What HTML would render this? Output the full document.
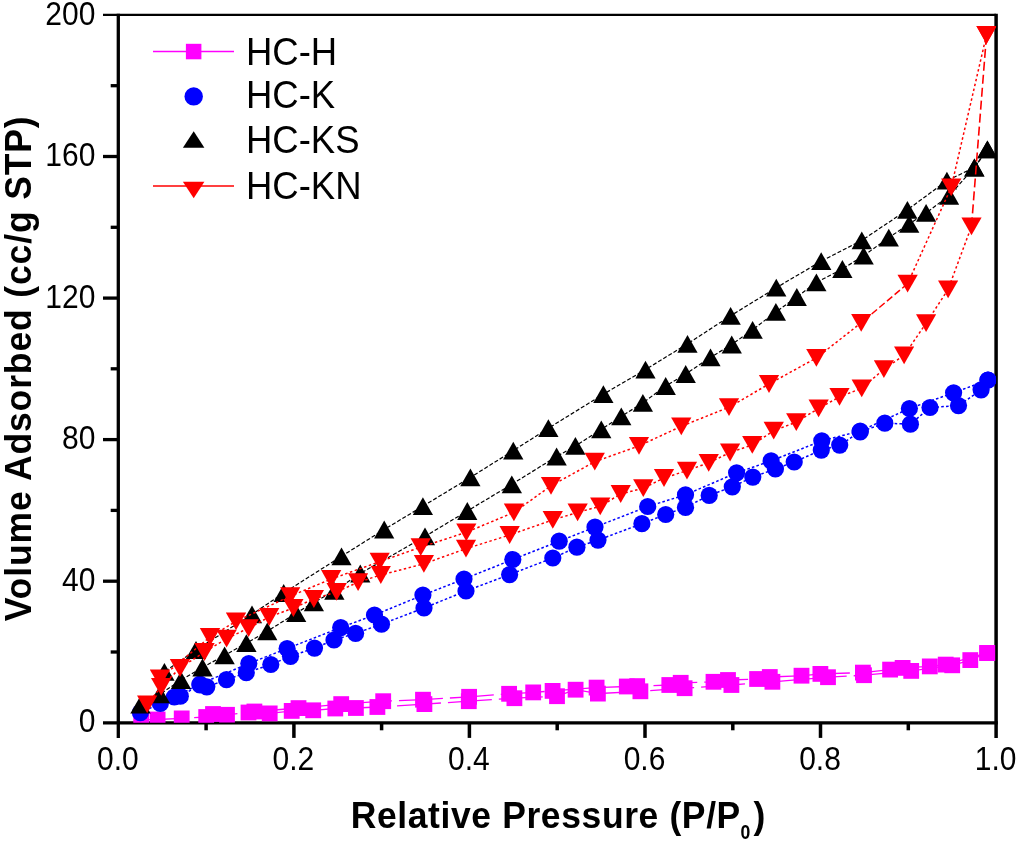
<!DOCTYPE html>
<html lang="en"><head><meta charset="utf-8"><title>N2 adsorption isotherms</title>
<style>html,body{margin:0;padding:0;background:#fff}svg{display:block}text{font-family:"Liberation Sans",Arial,sans-serif;fill:#000}.t{font-size:30px}.b{font-size:35.5px;font-weight:bold}.l{font-size:36.5px}</style>
</head><body>
<svg width="1020" height="845" viewBox="0 0 1020 845">
<rect width="1020" height="845" fill="#fff"/>
<g stroke="#000" fill="none" stroke-width="3.3">
<line x1="118.3" y1="13.85" x2="118.3" y2="737.9"/>
<line x1="996.1" y1="13.85" x2="996.1" y2="737.9" stroke-width="3.5"/>
<line x1="103.0" y1="722.8" x2="997.8000000000001" y2="722.8"/>
<line x1="103.0" y1="14.9" x2="996.1" y2="14.9" stroke-width="2.1"/>
<line x1="110.7" y1="652.0" x2="118.3" y2="652.0"/>
<line x1="103.0" y1="581.2" x2="118.3" y2="581.2"/>
<line x1="110.7" y1="510.4" x2="118.3" y2="510.4"/>
<line x1="103.0" y1="439.6" x2="118.3" y2="439.6"/>
<line x1="110.7" y1="368.8" x2="118.3" y2="368.8"/>
<line x1="103.0" y1="298.1" x2="118.3" y2="298.1"/>
<line x1="110.7" y1="227.3" x2="118.3" y2="227.3"/>
<line x1="103.0" y1="156.5" x2="118.3" y2="156.5"/>
<line x1="110.7" y1="85.7" x2="118.3" y2="85.7"/>
<line x1="206.1" y1="722.8" x2="206.1" y2="730.3" stroke-width="3.5"/>
<line x1="293.9" y1="722.8" x2="293.9" y2="737.9" stroke-width="3.5"/>
<line x1="381.6" y1="722.8" x2="381.6" y2="730.3" stroke-width="3.5"/>
<line x1="469.4" y1="722.8" x2="469.4" y2="737.9" stroke-width="3.5"/>
<line x1="557.2" y1="722.8" x2="557.2" y2="730.3" stroke-width="3.5"/>
<line x1="645.0" y1="722.8" x2="645.0" y2="737.9" stroke-width="3.5"/>
<line x1="732.8" y1="722.8" x2="732.8" y2="730.3" stroke-width="3.5"/>
<line x1="820.5" y1="722.8" x2="820.5" y2="737.9" stroke-width="3.5"/>
<line x1="908.3" y1="722.8" x2="908.3" y2="730.3" stroke-width="3.5"/>
</g>
<defs><clipPath id="cp"><rect x="118.3" y="14.9" width="877.8000000000001" height="707.9"/></clipPath></defs><g clip-path="url(#cp)">
<g id="hch">
<polyline points="141.2,719.7 157.6,719.5 181.7,718.4 206.2,717.0 213.0,714.0 227.0,714.8 248.5,712.5 269.7,713.4 291.7,710.9 313.2,710.3 335.3,708.5 355.9,708.0 377.4,707.0 424.4,704.1 468.8,701.2 514.4,698.2 557.0,696.2 575.6,689.7 597.9,693.6 640.4,691.3 684.6,688.2 731.4,685.0 772.4,681.8 828.0,677.2 864.0,675.2 911.2,670.9 952.2,665.3 970.3,660.1 987.2,653.0" fill="none" stroke="#ff00ff" stroke-width="1.3" stroke-dasharray="44 7" stroke-dashoffset="49"/>
<polyline points="254.4,711.5 298.5,708.1 341.2,704.1 383.2,701.2 423.0,699.7 469.1,696.8 509.1,693.8 533.2,692.4 552.6,690.9 596.6,687.6 626.8,686.5 637.2,686.1 669.3,685.0 680.7,682.8 713.5,681.8 728.0,680.0 757.1,679.0 769.8,677.0 801.5,675.7 820.4,673.9 862.9,672.6 890.1,669.6 902.6,667.9 929.8,666.4 945.7,664.6 987.2,653.0" fill="none" stroke="#ff00ff" stroke-width="1.3" stroke-dasharray="44 7" stroke-dashoffset="8"/>
<rect x="133.3" y="711.8" width="15.8" height="15.8" fill="#ff00ff"/>
<rect x="149.7" y="711.6" width="15.8" height="15.8" fill="#ff00ff"/>
<rect x="173.8" y="710.5" width="15.8" height="15.8" fill="#ff00ff"/>
<rect x="198.3" y="709.1" width="15.8" height="15.8" fill="#ff00ff"/>
<rect x="205.1" y="706.1" width="15.8" height="15.8" fill="#ff00ff"/>
<rect x="219.1" y="706.9" width="15.8" height="15.8" fill="#ff00ff"/>
<rect x="240.6" y="704.6" width="15.8" height="15.8" fill="#ff00ff"/>
<rect x="261.8" y="705.5" width="15.8" height="15.8" fill="#ff00ff"/>
<rect x="283.8" y="703.0" width="15.8" height="15.8" fill="#ff00ff"/>
<rect x="305.3" y="702.4" width="15.8" height="15.8" fill="#ff00ff"/>
<rect x="327.4" y="700.6" width="15.8" height="15.8" fill="#ff00ff"/>
<rect x="348.0" y="700.1" width="15.8" height="15.8" fill="#ff00ff"/>
<rect x="369.5" y="699.1" width="15.8" height="15.8" fill="#ff00ff"/>
<rect x="416.5" y="696.2" width="15.8" height="15.8" fill="#ff00ff"/>
<rect x="460.9" y="693.3" width="15.8" height="15.8" fill="#ff00ff"/>
<rect x="506.5" y="690.3" width="15.8" height="15.8" fill="#ff00ff"/>
<rect x="549.1" y="688.3" width="15.8" height="15.8" fill="#ff00ff"/>
<rect x="567.7" y="681.8" width="15.8" height="15.8" fill="#ff00ff"/>
<rect x="590.0" y="685.7" width="15.8" height="15.8" fill="#ff00ff"/>
<rect x="632.5" y="683.4" width="15.8" height="15.8" fill="#ff00ff"/>
<rect x="676.7" y="680.3" width="15.8" height="15.8" fill="#ff00ff"/>
<rect x="723.5" y="677.1" width="15.8" height="15.8" fill="#ff00ff"/>
<rect x="764.5" y="673.9" width="15.8" height="15.8" fill="#ff00ff"/>
<rect x="820.1" y="669.3" width="15.8" height="15.8" fill="#ff00ff"/>
<rect x="856.1" y="667.3" width="15.8" height="15.8" fill="#ff00ff"/>
<rect x="903.3" y="663.0" width="15.8" height="15.8" fill="#ff00ff"/>
<rect x="944.3" y="657.4" width="15.8" height="15.8" fill="#ff00ff"/>
<rect x="962.4" y="652.2" width="15.8" height="15.8" fill="#ff00ff"/>
<rect x="979.3" y="645.1" width="15.8" height="15.8" fill="#ff00ff"/>
<rect x="979.3" y="645.1" width="15.8" height="15.8" fill="#ff00ff"/>
<rect x="937.8" y="656.7" width="15.8" height="15.8" fill="#ff00ff"/>
<rect x="921.9" y="658.5" width="15.8" height="15.8" fill="#ff00ff"/>
<rect x="894.7" y="660.0" width="15.8" height="15.8" fill="#ff00ff"/>
<rect x="882.2" y="661.7" width="15.8" height="15.8" fill="#ff00ff"/>
<rect x="855.0" y="664.7" width="15.8" height="15.8" fill="#ff00ff"/>
<rect x="812.5" y="666.0" width="15.8" height="15.8" fill="#ff00ff"/>
<rect x="793.6" y="667.8" width="15.8" height="15.8" fill="#ff00ff"/>
<rect x="761.9" y="669.1" width="15.8" height="15.8" fill="#ff00ff"/>
<rect x="749.2" y="671.1" width="15.8" height="15.8" fill="#ff00ff"/>
<rect x="720.1" y="672.1" width="15.8" height="15.8" fill="#ff00ff"/>
<rect x="705.6" y="673.9" width="15.8" height="15.8" fill="#ff00ff"/>
<rect x="672.8" y="674.9" width="15.8" height="15.8" fill="#ff00ff"/>
<rect x="661.4" y="677.1" width="15.8" height="15.8" fill="#ff00ff"/>
<rect x="629.3" y="678.2" width="15.8" height="15.8" fill="#ff00ff"/>
<rect x="618.9" y="678.6" width="15.8" height="15.8" fill="#ff00ff"/>
<rect x="588.7" y="679.7" width="15.8" height="15.8" fill="#ff00ff"/>
<rect x="544.7" y="683.0" width="15.8" height="15.8" fill="#ff00ff"/>
<rect x="525.3" y="684.5" width="15.8" height="15.8" fill="#ff00ff"/>
<rect x="501.2" y="685.9" width="15.8" height="15.8" fill="#ff00ff"/>
<rect x="461.2" y="688.9" width="15.8" height="15.8" fill="#ff00ff"/>
<rect x="415.1" y="691.8" width="15.8" height="15.8" fill="#ff00ff"/>
<rect x="375.3" y="693.3" width="15.8" height="15.8" fill="#ff00ff"/>
<rect x="333.3" y="696.2" width="15.8" height="15.8" fill="#ff00ff"/>
<rect x="290.6" y="700.2" width="15.8" height="15.8" fill="#ff00ff"/>
<rect x="246.5" y="703.6" width="15.8" height="15.8" fill="#ff00ff"/>
</g>
<g id="hck">
<polyline points="140.4,712.6 160.3,703.5 180.3,696.2 200.0,685.0 206.8,686.8 226.5,679.7 246.3,672.7 270.8,664.5 290.5,656.3 314.5,648.1 334.0,640.0 355.6,633.3 381.5,624.2 424.0,608.0 466.0,591.0 509.6,574.6 552.8,558.0 576.9,547.2 598.0,540.1 641.9,523.7 665.7,514.5 685.5,507.3 709.2,495.4 732.3,486.8 752.8,477.1 775.4,468.9 794.2,462.0 821.3,450.1 839.7,445.1 860.2,431.8 884.8,423.2 910.4,424.2 930.0,407.5 958.5,405.6 981.1,389.8 988.0,380.0" fill="none" stroke="#0000ff" stroke-width="1.5" stroke-dasharray="2.6 2.2"/>
<polyline points="988.0,380.0 953.6,392.8 909.4,408.5 860.2,431.0 821.8,440.8 771.1,460.9 736.6,472.8 685.5,494.8 647.7,506.5 595.0,527.1 559.2,541.2 512.8,559.5 464.0,579.0 422.9,595.1 374.5,615.0 340.7,627.6 287.1,648.5 248.8,663.5 200.0,684.0 174.3,697.0" fill="none" stroke="#0000ff" stroke-width="1.5" stroke-dasharray="2.6 2.2"/>
<circle cx="140.4" cy="712.6" r="8.6" fill="#0000ff"/>
<circle cx="160.3" cy="703.5" r="8.6" fill="#0000ff"/>
<circle cx="180.3" cy="696.2" r="8.6" fill="#0000ff"/>
<circle cx="200.0" cy="685.0" r="8.6" fill="#0000ff"/>
<circle cx="206.8" cy="686.8" r="8.6" fill="#0000ff"/>
<circle cx="226.5" cy="679.7" r="8.6" fill="#0000ff"/>
<circle cx="246.3" cy="672.7" r="8.6" fill="#0000ff"/>
<circle cx="270.8" cy="664.5" r="8.6" fill="#0000ff"/>
<circle cx="290.5" cy="656.3" r="8.6" fill="#0000ff"/>
<circle cx="314.5" cy="648.1" r="8.6" fill="#0000ff"/>
<circle cx="334.0" cy="640.0" r="8.6" fill="#0000ff"/>
<circle cx="355.6" cy="633.3" r="8.6" fill="#0000ff"/>
<circle cx="381.5" cy="624.2" r="8.6" fill="#0000ff"/>
<circle cx="424.0" cy="608.0" r="8.6" fill="#0000ff"/>
<circle cx="466.0" cy="591.0" r="8.6" fill="#0000ff"/>
<circle cx="509.6" cy="574.6" r="8.6" fill="#0000ff"/>
<circle cx="552.8" cy="558.0" r="8.6" fill="#0000ff"/>
<circle cx="576.9" cy="547.2" r="8.6" fill="#0000ff"/>
<circle cx="598.0" cy="540.1" r="8.6" fill="#0000ff"/>
<circle cx="641.9" cy="523.7" r="8.6" fill="#0000ff"/>
<circle cx="665.7" cy="514.5" r="8.6" fill="#0000ff"/>
<circle cx="685.5" cy="507.3" r="8.6" fill="#0000ff"/>
<circle cx="709.2" cy="495.4" r="8.6" fill="#0000ff"/>
<circle cx="732.3" cy="486.8" r="8.6" fill="#0000ff"/>
<circle cx="752.8" cy="477.1" r="8.6" fill="#0000ff"/>
<circle cx="775.4" cy="468.9" r="8.6" fill="#0000ff"/>
<circle cx="794.2" cy="462.0" r="8.6" fill="#0000ff"/>
<circle cx="821.3" cy="450.1" r="8.6" fill="#0000ff"/>
<circle cx="839.7" cy="445.1" r="8.6" fill="#0000ff"/>
<circle cx="860.2" cy="431.8" r="8.6" fill="#0000ff"/>
<circle cx="884.8" cy="423.2" r="8.6" fill="#0000ff"/>
<circle cx="910.4" cy="424.2" r="8.6" fill="#0000ff"/>
<circle cx="930.0" cy="407.5" r="8.6" fill="#0000ff"/>
<circle cx="958.5" cy="405.6" r="8.6" fill="#0000ff"/>
<circle cx="981.1" cy="389.8" r="8.6" fill="#0000ff"/>
<circle cx="988.0" cy="380.0" r="8.6" fill="#0000ff"/>
<circle cx="988.0" cy="380.0" r="8.6" fill="#0000ff"/>
<circle cx="953.6" cy="392.8" r="8.6" fill="#0000ff"/>
<circle cx="909.4" cy="408.5" r="8.6" fill="#0000ff"/>
<circle cx="860.2" cy="431.0" r="8.6" fill="#0000ff"/>
<circle cx="821.8" cy="440.8" r="8.6" fill="#0000ff"/>
<circle cx="771.1" cy="460.9" r="8.6" fill="#0000ff"/>
<circle cx="736.6" cy="472.8" r="8.6" fill="#0000ff"/>
<circle cx="685.5" cy="494.8" r="8.6" fill="#0000ff"/>
<circle cx="647.7" cy="506.5" r="8.6" fill="#0000ff"/>
<circle cx="595.0" cy="527.1" r="8.6" fill="#0000ff"/>
<circle cx="559.2" cy="541.2" r="8.6" fill="#0000ff"/>
<circle cx="512.8" cy="559.5" r="8.6" fill="#0000ff"/>
<circle cx="464.0" cy="579.0" r="8.6" fill="#0000ff"/>
<circle cx="422.9" cy="595.1" r="8.6" fill="#0000ff"/>
<circle cx="374.5" cy="615.0" r="8.6" fill="#0000ff"/>
<circle cx="340.7" cy="627.6" r="8.6" fill="#0000ff"/>
<circle cx="287.1" cy="648.5" r="8.6" fill="#0000ff"/>
<circle cx="248.8" cy="663.5" r="8.6" fill="#0000ff"/>
<circle cx="200.0" cy="684.0" r="8.6" fill="#0000ff"/>
<circle cx="174.3" cy="697.0" r="8.6" fill="#0000ff"/>
</g>
<g id="hcks">
<polyline points="140.5,704.7 159.8,694.4 180.9,680.1 202.5,667.5 224.6,655.3 246.4,643.2 267.3,631.3 296.2,613.1 313.9,602.4 334.4,590.8 360.3,573.5 425.0,536.4 467.3,511.0 511.8,484.3 556.6,456.5 575.4,445.9 601.3,429.4 621.3,416.4 642.9,402.8 665.7,386.0 685.7,374.0 710.5,357.4 731.7,344.5 752.6,329.8 775.9,311.9 796.8,297.0 816.4,282.4 842.4,269.0 863.6,255.7 888.8,237.7 909.2,223.9 926.1,212.9 949.1,195.8 974.4,167.5 987.4,149.4" fill="none" stroke="#000" stroke-width="1.2" stroke-dasharray="4 2"/>
<polyline points="987.4,149.4 974.4,167.5 946.9,180.7 907.4,209.8 861.8,240.4 821.2,261.2 776.3,287.7 730.6,315.8 687.5,343.8 645.5,369.6 603.4,394.2 548.4,428.2 513.3,450.6 470.4,477.4 422.9,506.2 384.2,529.5 341.5,556.3 283.7,593.0 252.0,614.3 196.0,650.0 164.4,671.8" fill="none" stroke="#000" stroke-width="1.2" stroke-dasharray="4 2"/>
<polygon points="130.3,713.6 150.7,713.6 140.5,695.8" fill="#000"/>
<polygon points="149.7,703.3 170.0,703.3 159.8,685.5" fill="#000"/>
<polygon points="170.8,689.0 191.1,689.0 180.9,671.2" fill="#000"/>
<polygon points="192.3,676.4 212.7,676.4 202.5,658.6" fill="#000"/>
<polygon points="214.4,664.2 234.8,664.2 224.6,646.4" fill="#000"/>
<polygon points="236.2,652.1 256.6,652.1 246.4,634.3" fill="#000"/>
<polygon points="257.2,640.2 277.4,640.2 267.3,622.4" fill="#000"/>
<polygon points="286.1,622.0 306.3,622.0 296.2,604.2" fill="#000"/>
<polygon points="303.8,611.3 324.0,611.3 313.9,593.5" fill="#000"/>
<polygon points="324.2,599.7 344.5,599.7 334.4,581.9" fill="#000"/>
<polygon points="350.2,582.4 370.4,582.4 360.3,564.6" fill="#000"/>
<polygon points="414.9,545.3 435.1,545.3 425.0,527.5" fill="#000"/>
<polygon points="457.2,519.9 477.4,519.9 467.3,502.1" fill="#000"/>
<polygon points="501.7,493.2 522.0,493.2 511.8,475.4" fill="#000"/>
<polygon points="546.5,465.4 566.8,465.4 556.6,447.6" fill="#000"/>
<polygon points="565.2,454.8 585.5,454.8 575.4,437.0" fill="#000"/>
<polygon points="591.1,438.3 611.4,438.3 601.3,420.5" fill="#000"/>
<polygon points="611.1,425.3 631.4,425.3 621.3,407.5" fill="#000"/>
<polygon points="632.8,411.7 653.0,411.7 642.9,393.9" fill="#000"/>
<polygon points="655.6,394.9 675.9,394.9 665.7,377.1" fill="#000"/>
<polygon points="675.6,382.9 695.9,382.9 685.7,365.1" fill="#000"/>
<polygon points="700.4,366.3 720.6,366.3 710.5,348.5" fill="#000"/>
<polygon points="721.6,353.4 741.9,353.4 731.7,335.6" fill="#000"/>
<polygon points="742.5,338.7 762.8,338.7 752.6,320.9" fill="#000"/>
<polygon points="765.8,320.8 786.0,320.8 775.9,303.0" fill="#000"/>
<polygon points="786.6,305.9 806.9,305.9 796.8,288.1" fill="#000"/>
<polygon points="806.2,291.3 826.5,291.3 816.4,273.5" fill="#000"/>
<polygon points="832.2,277.9 852.5,277.9 842.4,260.1" fill="#000"/>
<polygon points="853.5,264.6 873.8,264.6 863.6,246.8" fill="#000"/>
<polygon points="878.6,246.6 898.9,246.6 888.8,228.8" fill="#000"/>
<polygon points="899.1,232.8 919.4,232.8 909.2,215.0" fill="#000"/>
<polygon points="916.0,221.8 936.2,221.8 926.1,204.0" fill="#000"/>
<polygon points="939.0,204.7 959.2,204.7 949.1,186.9" fill="#000"/>
<polygon points="964.2,176.4 984.5,176.4 974.4,158.6" fill="#000"/>
<polygon points="977.2,158.3 997.5,158.3 987.4,140.5" fill="#000"/>
<polygon points="977.2,158.3 997.5,158.3 987.4,140.5" fill="#000"/>
<polygon points="964.2,176.4 984.5,176.4 974.4,158.6" fill="#000"/>
<polygon points="936.8,189.6 957.0,189.6 946.9,171.8" fill="#000"/>
<polygon points="897.2,218.7 917.5,218.7 907.4,200.9" fill="#000"/>
<polygon points="851.6,249.3 871.9,249.3 861.8,231.5" fill="#000"/>
<polygon points="811.1,270.1 831.4,270.1 821.2,252.3" fill="#000"/>
<polygon points="766.1,296.6 786.4,296.6 776.3,278.8" fill="#000"/>
<polygon points="720.5,324.7 740.8,324.7 730.6,306.9" fill="#000"/>
<polygon points="677.4,352.7 697.6,352.7 687.5,334.9" fill="#000"/>
<polygon points="635.4,378.5 655.6,378.5 645.5,360.7" fill="#000"/>
<polygon points="593.2,403.1 613.5,403.1 603.4,385.3" fill="#000"/>
<polygon points="538.2,437.1 558.5,437.1 548.4,419.3" fill="#000"/>
<polygon points="503.1,459.5 523.4,459.5 513.3,441.7" fill="#000"/>
<polygon points="460.2,486.3 480.5,486.3 470.4,468.5" fill="#000"/>
<polygon points="412.8,515.1 433.0,515.1 422.9,497.3" fill="#000"/>
<polygon points="374.1,538.4 394.3,538.4 384.2,520.6" fill="#000"/>
<polygon points="331.4,565.2 351.6,565.2 341.5,547.4" fill="#000"/>
<polygon points="273.6,601.9 293.8,601.9 283.7,584.1" fill="#000"/>
<polygon points="241.8,623.2 262.1,623.2 252.0,605.4" fill="#000"/>
<polygon points="185.8,658.9 206.2,658.9 196.0,641.1" fill="#000"/>
<polygon points="154.2,680.7 174.6,680.7 164.4,662.9" fill="#000"/>
</g>
<g id="hckn">
<polyline points="147.2,704.3 161.2,686.8 180.0,668.0 204.5,652.0 226.6,638.6 248.6,628.1 269.2,617.0 293.4,608.0 313.9,599.0 336.6,591.9 358.1,582.2 380.8,575.0 423.9,563.8 466.0,548.7 509.6,535.0 552.8,519.9 577.6,512.4 600.2,506.3 620.7,494.0 643.3,488.2 664.0,478.0 687.0,470.6 708.7,462.8 730.1,452.5 752.3,444.9 773.7,430.7 796.3,422.1 818.6,408.4 839.5,396.9 861.7,388.3 883.9,369.2 904.1,355.3 926.1,323.2 948.1,289.4 971.5,226.3" fill="none" stroke="#ff0000" stroke-width="1.5" stroke-dasharray="2.5 2.5"/>
<polyline points="971.5,226.3 986.5,35.0" fill="none" stroke="#ff0000" stroke-width="1.6" stroke-dasharray="9 4"/>
<polyline points="986.5,35.0 951.2,187.4 907.6,283.7" fill="none" stroke="#ff0000" stroke-width="1.5" stroke-dasharray="2.5 2.5"/>
<polyline points="907.6,283.7 861.2,322.8" fill="none" stroke="#ff0000" stroke-width="1.5" stroke-dasharray="7 3"/>
<polyline points="861.2,322.8 816.4,357.9 769.0,384.0 729.0,407.2 681.3,426.3 639.0,445.9 594.8,461.7 551.0,485.8 513.9,512.4 466.3,532.3 420.7,547.2 379.7,561.7 331.2,579.0 290.2,596.2 236.0,621.3 210.0,637.0 160.0,678.5" fill="none" stroke="#ff0000" stroke-width="1.5" stroke-dasharray="2.5 2.5"/>
<polygon points="137.0,695.4 157.3,695.4 147.2,713.2" fill="#ff0000"/>
<polygon points="151.0,677.9 171.3,677.9 161.2,695.7" fill="#ff0000"/>
<polygon points="169.8,659.1 190.2,659.1 180.0,676.9" fill="#ff0000"/>
<polygon points="194.3,643.1 214.7,643.1 204.5,660.9" fill="#ff0000"/>
<polygon points="216.4,629.7 236.8,629.7 226.6,647.5" fill="#ff0000"/>
<polygon points="238.4,619.2 258.8,619.2 248.6,637.0" fill="#ff0000"/>
<polygon points="259.1,608.1 279.3,608.1 269.2,625.9" fill="#ff0000"/>
<polygon points="283.2,599.1 303.5,599.1 293.4,616.9" fill="#ff0000"/>
<polygon points="303.8,590.1 324.0,590.1 313.9,607.9" fill="#ff0000"/>
<polygon points="326.5,583.0 346.8,583.0 336.6,600.8" fill="#ff0000"/>
<polygon points="348.0,573.3 368.2,573.3 358.1,591.1" fill="#ff0000"/>
<polygon points="370.7,566.1 390.9,566.1 380.8,583.9" fill="#ff0000"/>
<polygon points="413.8,554.9 434.0,554.9 423.9,572.7" fill="#ff0000"/>
<polygon points="455.9,539.8 476.1,539.8 466.0,557.6" fill="#ff0000"/>
<polygon points="499.5,526.1 519.8,526.1 509.6,543.9" fill="#ff0000"/>
<polygon points="542.6,511.0 562.9,511.0 552.8,528.8" fill="#ff0000"/>
<polygon points="567.5,503.5 587.8,503.5 577.6,521.3" fill="#ff0000"/>
<polygon points="590.1,497.4 610.4,497.4 600.2,515.2" fill="#ff0000"/>
<polygon points="610.6,485.1 630.9,485.1 620.7,502.9" fill="#ff0000"/>
<polygon points="633.1,479.3 653.4,479.3 643.3,497.1" fill="#ff0000"/>
<polygon points="653.9,469.1 674.1,469.1 664.0,486.9" fill="#ff0000"/>
<polygon points="676.9,461.7 697.1,461.7 687.0,479.5" fill="#ff0000"/>
<polygon points="698.6,453.9 718.9,453.9 708.7,471.7" fill="#ff0000"/>
<polygon points="720.0,443.6 740.2,443.6 730.1,461.4" fill="#ff0000"/>
<polygon points="742.1,436.0 762.4,436.0 752.3,453.8" fill="#ff0000"/>
<polygon points="763.6,421.8 783.9,421.8 773.7,439.6" fill="#ff0000"/>
<polygon points="786.1,413.2 806.4,413.2 796.3,431.0" fill="#ff0000"/>
<polygon points="808.5,399.5 828.8,399.5 818.6,417.3" fill="#ff0000"/>
<polygon points="829.4,388.0 849.6,388.0 839.5,405.8" fill="#ff0000"/>
<polygon points="851.6,379.4 871.9,379.4 861.7,397.2" fill="#ff0000"/>
<polygon points="873.8,360.3 894.0,360.3 883.9,378.1" fill="#ff0000"/>
<polygon points="894.0,346.4 914.2,346.4 904.1,364.2" fill="#ff0000"/>
<polygon points="916.0,314.3 936.2,314.3 926.1,332.1" fill="#ff0000"/>
<polygon points="938.0,280.5 958.2,280.5 948.1,298.3" fill="#ff0000"/>
<polygon points="961.4,217.4 981.6,217.4 971.5,235.2" fill="#ff0000"/>
<polygon points="976.4,26.1 996.6,26.1 986.5,43.9" fill="#ff0000"/>
<polygon points="976.4,26.1 996.6,26.1 986.5,43.9" fill="#ff0000"/>
<polygon points="941.1,178.5 961.4,178.5 951.2,196.3" fill="#ff0000"/>
<polygon points="897.5,274.8 917.8,274.8 907.6,292.6" fill="#ff0000"/>
<polygon points="851.1,313.9 871.4,313.9 861.2,331.7" fill="#ff0000"/>
<polygon points="806.2,349.0 826.5,349.0 816.4,366.8" fill="#ff0000"/>
<polygon points="758.9,375.1 779.1,375.1 769.0,392.9" fill="#ff0000"/>
<polygon points="718.9,398.3 739.1,398.3 729.0,416.1" fill="#ff0000"/>
<polygon points="671.1,417.4 691.4,417.4 681.3,435.2" fill="#ff0000"/>
<polygon points="628.9,437.0 649.1,437.0 639.0,454.8" fill="#ff0000"/>
<polygon points="584.6,452.8 604.9,452.8 594.8,470.6" fill="#ff0000"/>
<polygon points="540.9,476.9 561.1,476.9 551.0,494.7" fill="#ff0000"/>
<polygon points="503.8,503.5 524.0,503.5 513.9,521.3" fill="#ff0000"/>
<polygon points="456.2,523.4 476.4,523.4 466.3,541.2" fill="#ff0000"/>
<polygon points="410.6,538.3 430.8,538.3 420.7,556.1" fill="#ff0000"/>
<polygon points="369.6,552.8 389.8,552.8 379.7,570.6" fill="#ff0000"/>
<polygon points="321.1,570.1 341.3,570.1 331.2,587.9" fill="#ff0000"/>
<polygon points="280.1,587.3 300.3,587.3 290.2,605.1" fill="#ff0000"/>
<polygon points="225.8,612.4 246.2,612.4 236.0,630.2" fill="#ff0000"/>
<polygon points="199.8,628.1 220.2,628.1 210.0,645.9" fill="#ff0000"/>
<polygon points="149.8,669.6 170.2,669.6 160.0,687.4" fill="#ff0000"/>
</g>
</g>
<text class="t" transform="translate(95.4,732.4) scale(1,1.13)" text-anchor="end">0</text>
<text class="t" transform="translate(95.4,590.8) scale(1,1.13)" text-anchor="end">40</text>
<text class="t" transform="translate(95.4,449.2) scale(1,1.13)" text-anchor="end">80</text>
<text class="t" transform="translate(95.4,307.7) scale(1,1.13)" text-anchor="end">120</text>
<text class="t" transform="translate(95.4,166.1) scale(1,1.13)" text-anchor="end">160</text>
<text class="t" transform="translate(95.4,24.5) scale(1,1.13)" text-anchor="end">200</text>
<text class="t" transform="translate(117.8,770.4) scale(1,1.11)" text-anchor="middle">0.0</text>
<text class="t" transform="translate(293.4,770.4) scale(1,1.11)" text-anchor="middle">0.2</text>
<text class="t" transform="translate(468.9,770.4) scale(1,1.11)" text-anchor="middle">0.4</text>
<text class="t" transform="translate(644.5,770.4) scale(1,1.11)" text-anchor="middle">0.6</text>
<text class="t" transform="translate(820.0,770.4) scale(1,1.11)" text-anchor="middle">0.8</text>
<text class="t" transform="translate(995.6,770.4) scale(1,1.11)" text-anchor="middle">1.0</text>
<text class="b" transform="translate(350.7,827.5) scale(1,1.04)" textLength="389.6" lengthAdjust="spacing">Relative Pressure (P/P</text>
<text x="740.6" y="839" font-size="21" font-weight="bold" textLength="9.8" lengthAdjust="spacingAndGlyphs">0</text>
<text class="b" transform="translate(753.4,827.5) scale(1,1.04)">)</text>
<text class="b" transform="translate(30.6,621.3) rotate(-90) scale(1,1.04)" textLength="505" lengthAdjust="spacing">Volume Adsorbed (cc/g STP)</text>
<line x1="153" y1="51.5" x2="234" y2="51.5" stroke="#ff00ff" stroke-width="1.5"/>
<rect x="185.9" y="43.8" width="15.5" height="15.5" fill="#ff00ff"/>
<circle cx="193.7" cy="96.4" r="9.2" fill="#0000ff"/>
<polygon points="182.9,147.8 204.4,147.8 193.7,131.3" fill="#000"/>
<line x1="153" y1="186.1" x2="234" y2="186.1" stroke="#ff0000" stroke-width="1.5"/>
<polygon points="182.9,181.7 204.4,181.7 193.7,198.2" fill="#ff0000"/>
<text class="l" transform="translate(246.0,64.6) scale(1,1.07)" text-anchor="start">HC-H</text>
<text class="l" transform="translate(246.0,108.3) scale(1,1.07)" text-anchor="start">HC-K</text>
<text class="l" transform="translate(246.0,152.8) scale(1,1.07)" text-anchor="start">HC-KS</text>
<text class="l" transform="translate(246.0,198.9) scale(1,1.07)" text-anchor="start">HC-KN</text>
</svg></body></html>
